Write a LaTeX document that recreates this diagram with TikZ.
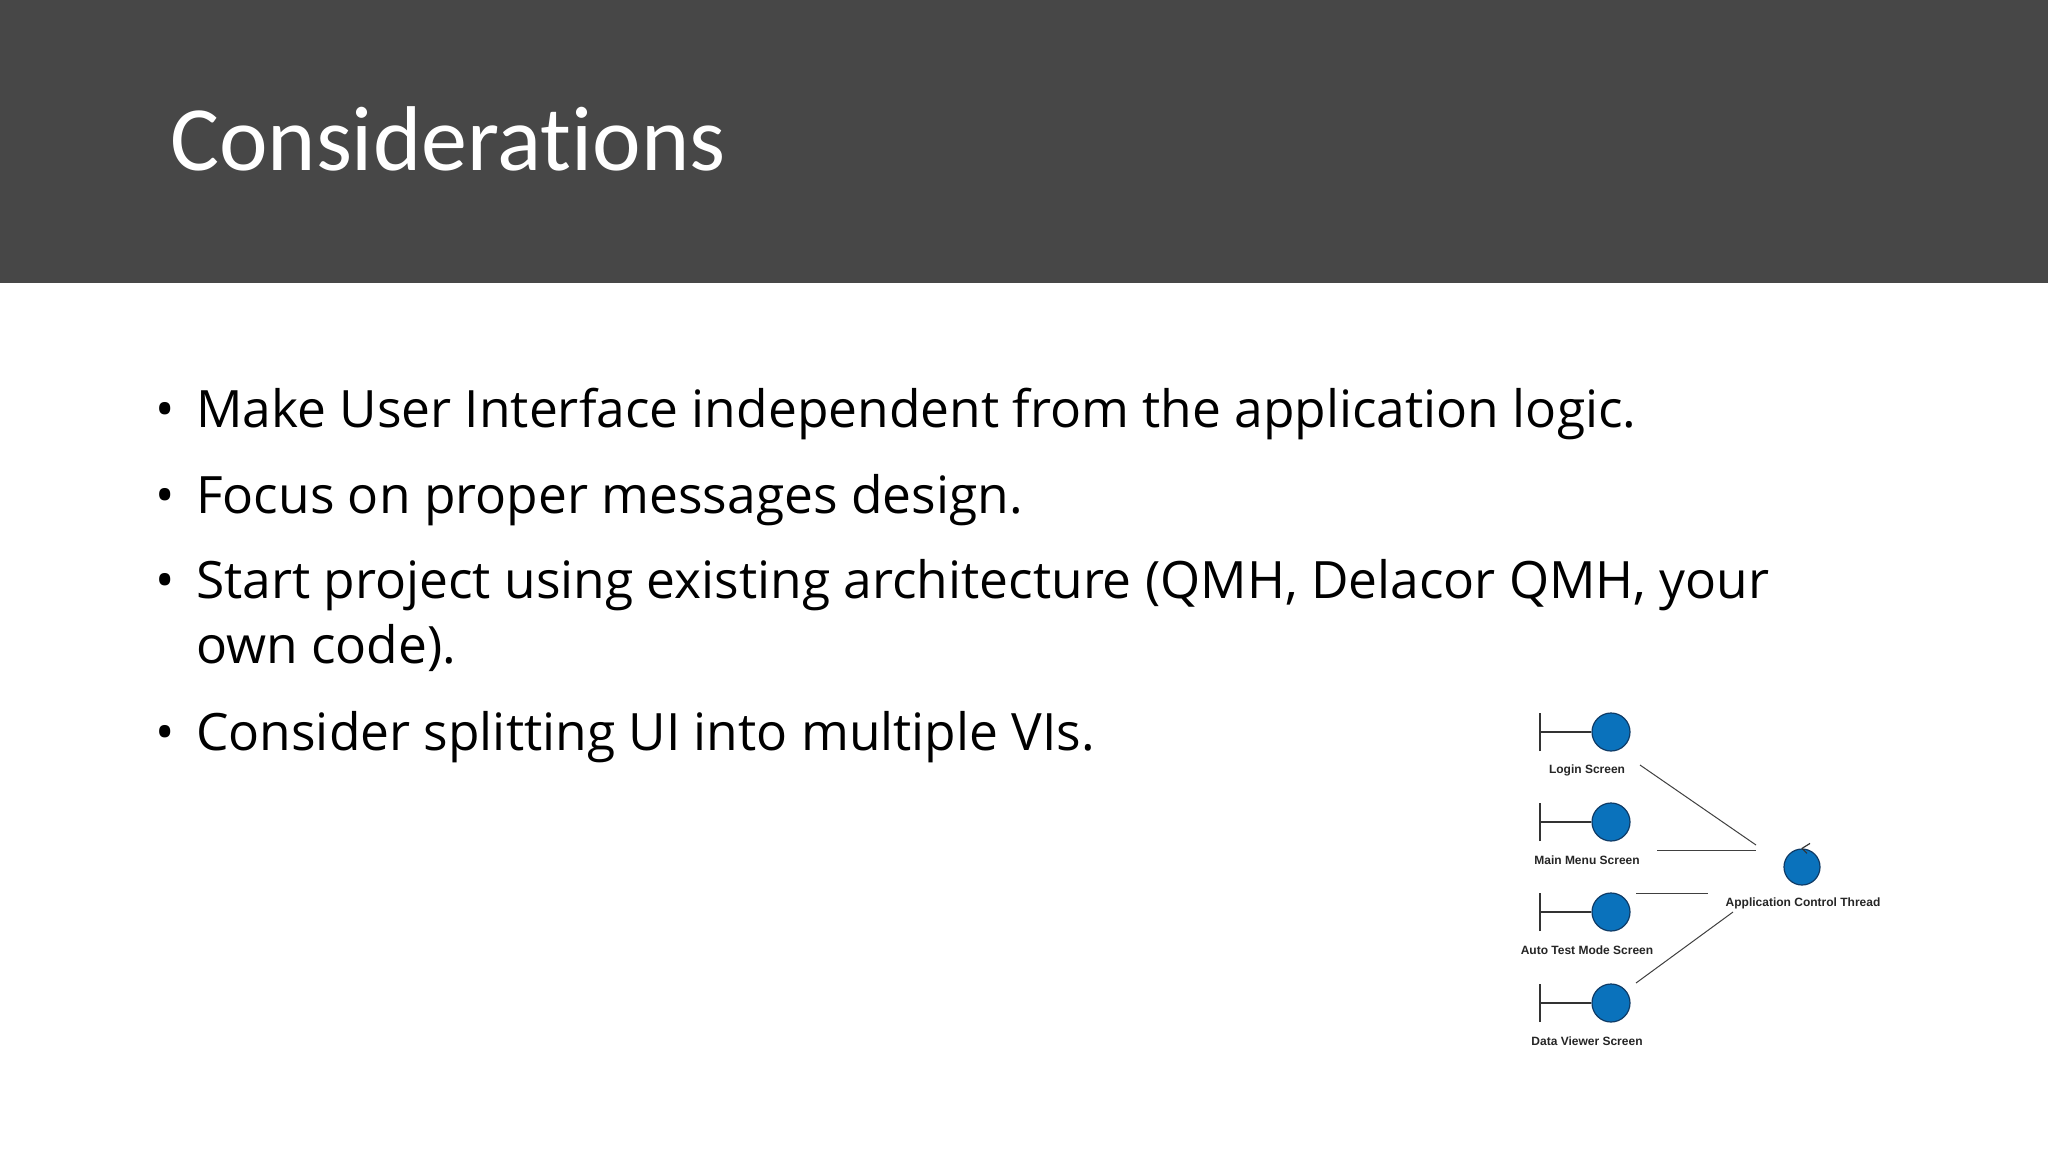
\documentclass[tikz,border=0pt]{standalone}
\usepackage{fontspec}
\setmainfont[Ligatures=NoCommon]{Carlito}
\newfontfamily\bodyf{Open Sans}
\newfontfamily\diag{Liberation Sans}
\definecolor{hdr}{HTML}{474747}
\definecolor{ball}{HTML}{0A72BC}
\definecolor{ballrim}{HTML}{0F3B66}
\begin{document}
\begin{tikzpicture}[x=1pt,y=-1pt,
  bul/.style={anchor=base west,inner sep=0,font=\bodyf\fontsize{51.5}{60}\selectfont,text=black},
  lbl/.style={font=\diag\bfseries\fontsize{12}{14}\selectfont,text=black!85,inner sep=0},
  ballst/.style={circle,fill=ball,draw=ballrim,line width=1.2pt,minimum size=38pt,inner sep=0},
  edge/.style={draw=black!75,line width=1pt}]
\useasboundingbox (0,0) rectangle (2048,1152);
\fill[white] (0,0) rectangle (2048,1152);
\fill[hdr] (0,0) rectangle (2048,283);
\node[anchor=base west,inner sep=0,text=white,font=\fontsize{92}{100}\selectfont] (title) at (170,170) {Considerations};
\foreach \y/\t [count=\i] in {427/Make User Interface independent from the application logic.,513/Focus on proper messages design.,598/{Start project using existing architecture (QMH, Delacor QMH, your},750/Consider splitting UI into multiple VIs.}{
  \node[bul] (b\i) at (196,\y) {\t};
  \node[bul] (d\i) at (155,\y) {•};
}
\node[bul] (b3b) at (196,663) {own code).};
% diagram
\foreach \y/\t [count=\i] in {732/Login Screen,822/Main Menu Screen,912/Auto Test Mode Screen,1003/Data Viewer Screen}{
  \node[ballst] (c\i) at (1611,\y) {};
  \coordinate (v\i) at (1540,\y);
  \draw[line width=1.2pt,black!80] ([yshift=-19]v\i) -- ([yshift=19]v\i);
  \draw[line width=1.2pt,black!80] (v\i) -- (c\i.west);
  \node[lbl] (l\i) at (1587,\y+38) {\t};
}
\node[ballst,minimum size=36pt] (act) at (1802,867) {};
\draw[line width=1.2pt,black!80] (act.north) -- ++(8,-5) (act.north) -- ++(5,5);
\node[lbl] (actl) at (1803,903) {Application Control Thread};
\coordinate (e1a) at (1640,765); \coordinate (e1b) at (1756,845);
\coordinate (e2a) at (1657,850); \coordinate (e2b) at (1756,850);
\coordinate (e3a) at (1636,893); \coordinate (e3b) at (1708,893);
\coordinate (e4a) at (1636,983); \coordinate (e4b) at (1733,912);
\draw[edge] (e1a) -- (e1b);
\draw[edge] (e2a) -- (e2b);
\draw[edge] (e3a) -- (e3b);
\draw[edge] (e4a) -- (e4b);
\end{tikzpicture}
\end{document}
